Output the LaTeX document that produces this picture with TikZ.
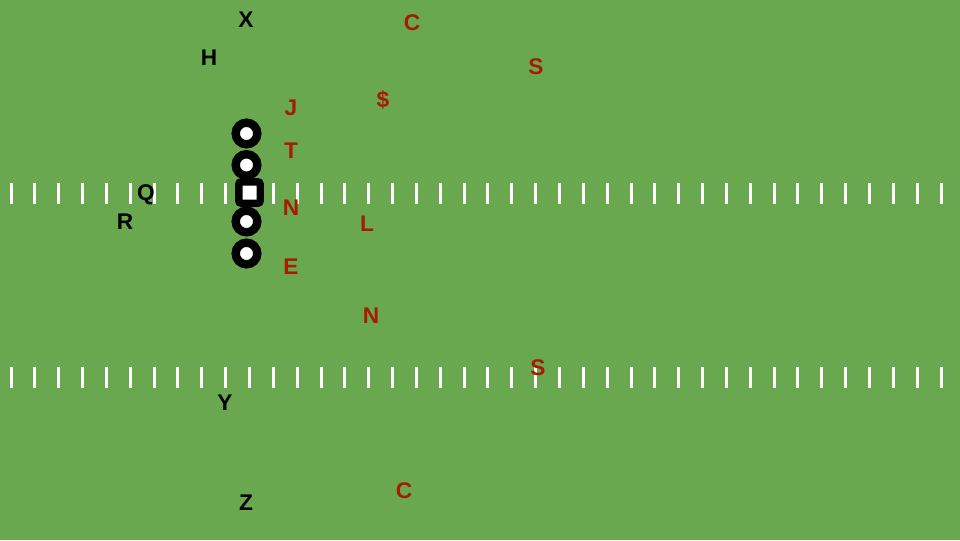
\documentclass[tikz,border=0pt]{standalone}
\usepackage{fontspec}
\setmainfont{Liberation Sans}
\usepackage{tikz}
\usetikzlibrary{positioning}
\definecolor{fieldgreen}{HTML}{6AA84F}
\definecolor{defred}{HTML}{A61C00}
\tikzset{
    off/.style={font=\bfseries\fontsize{17}{17}\selectfont, text=black, inner sep=0pt},
    def/.style={off, text=defred},
    lineman/.style={circle, draw=black, fill=white, line width=6.3pt, minimum size=16.2pt, inner sep=0pt},
    center/.style={rectangle, draw=black, fill=white, line width=5.6pt, minimum size=16.1pt, inner sep=0pt, rounded corners=2pt},
    hash/.style={fill=white, draw=none}
}
\begin{document}
\begin{tikzpicture}[x=0.75pt, y=-0.75pt]
    \fill[fieldgreen] (0,0) rectangle (960,540);
    \useasboundingbox (0,0) rectangle (960,540);
    % hash marks
    \foreach \i in {0,...,39} {
        \fill[hash] ({11+\i*23.846-1.5},183) rectangle ({11+\i*23.846+1.5},204);
        \fill[hash] ({11+\i*23.846-1.5},367) rectangle ({11+\i*23.846+1.5},388);
    }
    % offensive line
    \node[lineman] (lt) at (246.5,133.5) {};
    \node[lineman] (lg) at (246.5,165) {};
    \node[center]  (c)  at (249.5,192.5) {};
    \node[lineman] (rg) at (246.5,221.5) {};
    \node[lineman] (rt) at (246.5,253.5) {};
    % offense
    \node[off] (x) at (246,20) {X};
    \node[off] (h) at (209,58) {H};
    \node[off] (q) at (146,195) {Q};
    \node[off] (r) at (125,222) {R};
    \node[off] (y) at (225,403) {Y};
    \node[off] (z) at (246,503) {Z};
    % defense
    \node[def] (c1) at (412,23) {C};
    \node[def] (s1) at (536,67) {S};
    \node[def] (j)  at (291,108) {J};
    \node[def] (m)  at (383,100) {\$};
    \node[def] (t)  at (291,151) {T};
    \node[def] (n1) at (291,208) {N};
    \node[def] (l)  at (367,224) {L};
    \node[def] (e)  at (291,267) {E};
    \node[def] (n2) at (371,316) {N};
    \node[def] (s2) at (538,368) {S};
    \node[def] (c2) at (404,491) {C};
\end{tikzpicture}
\end{document}
